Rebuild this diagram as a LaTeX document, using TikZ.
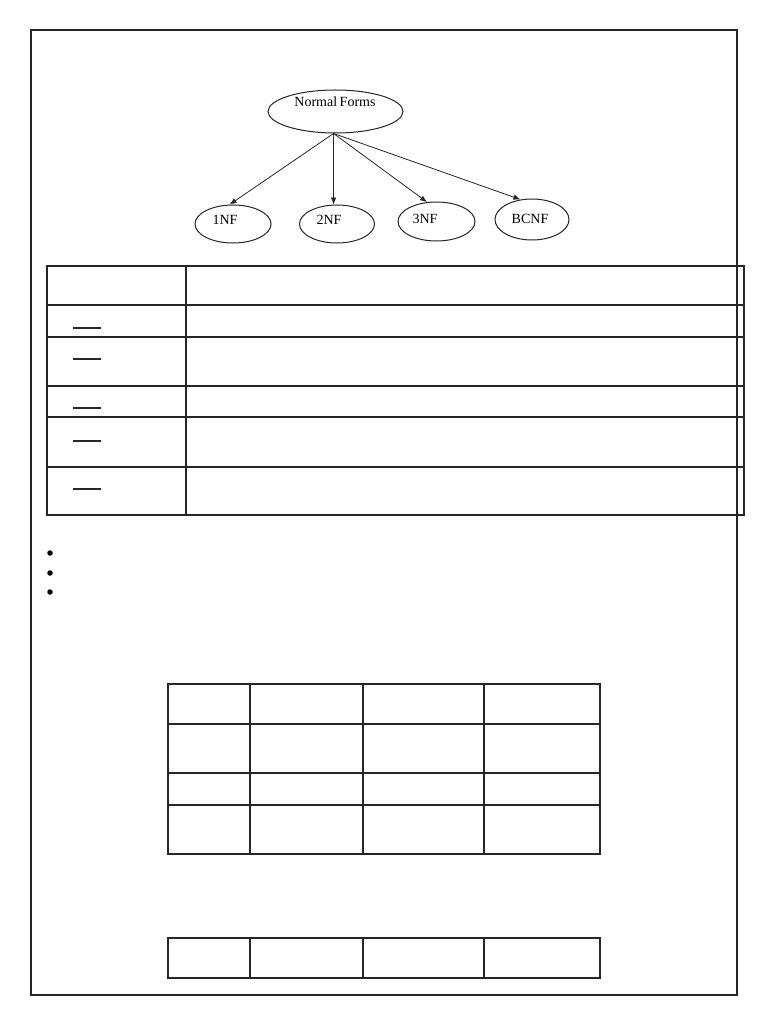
\documentclass[tikz,border=0pt]{standalone}
\usepackage{fontspec}
\setmainfont{Liberation Serif}
\usetikzlibrary{shapes.geometric,arrows.meta}
\begin{document}
\begin{tikzpicture}[x=1pt,y=-1pt,
  rule/.style={draw=black!85,line width=1.3pt},
  oval/.style={ellipse,draw=black!85,line width=1pt,inner sep=0pt},
  lbl/.style={anchor=base,inner sep=0pt,font=\fontsize{14}{16}\selectfont},
  link/.style={draw=black!85,line width=0.8pt,-{Latex[length=7pt,width=5.5pt]}},
  dot/.style={circle,fill=black,inner sep=0pt,minimum size=5.5pt}]
\useasboundingbox (0,0) rectangle (768,1024);
\fill[white] (0,0) rectangle (768,1024);
% page frame
\draw[rule] (31,30) rectangle (737,995);
% diagram
\node[oval,minimum width=135pt,minimum height=43pt] (nf) at (335.5,111.5) {};
\node[lbl] (nft) at (335,107) {Normal\hspace{-1pt} Forms};
\node[oval,minimum width=76pt,minimum height=38pt] (n1) at (233,224) {};
\node[oval,minimum width=75pt,minimum height=38pt] (n2) at (337,224) {};
\node[oval,minimum width=77pt,minimum height=39pt] (n3) at (436.5,221.5) {};
\node[oval,minimum width=74pt,minimum height=41pt] (n4) at (532,219.5) {};
\node[lbl] (t1) at (225,225) {1NF};
\node[lbl] (t2) at (329,225) {2NF};
\node[lbl] (t3) at (425,224) {3NF};
\node[lbl] (t4) at (530,223) {BCNF};
\draw[link] (nf.265) -- (n1.100);
\draw[link] (nf.265) -- (n2.100);
\draw[link] (nf.265) -- (n3.116);
\draw[link] (nf.265) -- (n4.120);
% top table
\draw[rule] (47,266) rectangle (744,515);
\draw[rule] (186,266) -- (186,515);
\foreach \y in {305,337,386,417,467} \draw[rule] (47,\y) -- (744,\y);
\foreach \y in {328,359,408,441,489} \draw[draw=black!85,line width=1.2pt] (73,\y) -- (101,\y);
% bullets
\foreach \y in {553,573,592} \node[dot] at (50,\y) {};
% middle table
\draw[rule] (168,684) rectangle (600,854);
\foreach \x in {250,363,484} \draw[rule] (\x,684) -- (\x,854);
\foreach \y in {724,773,805} \draw[rule] (168,\y) -- (600,\y);
% bottom table
\draw[rule] (168,938) rectangle (600,978);
\foreach \x in {250,363,484} \draw[rule] (\x,938) -- (\x,978);
\end{tikzpicture}
\end{document}
